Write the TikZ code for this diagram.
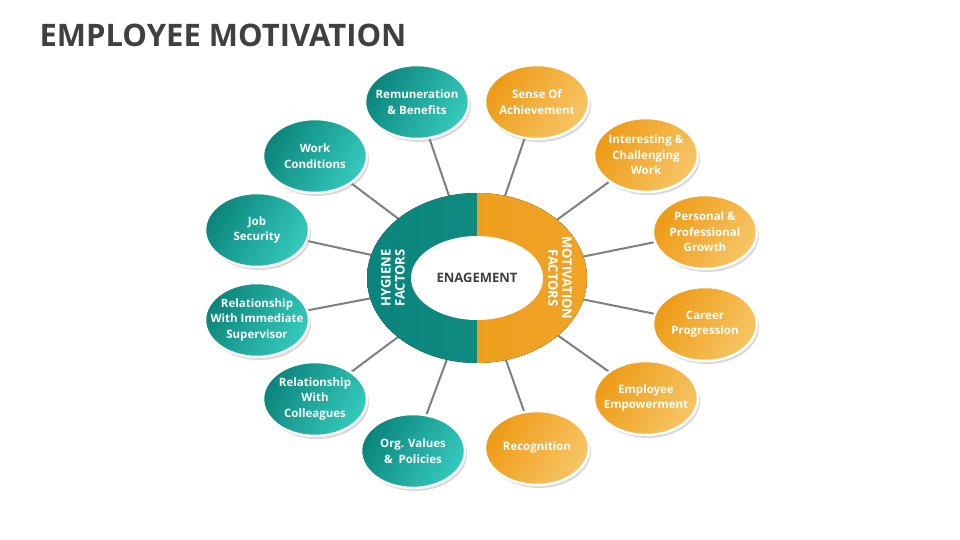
\documentclass[tikz,border=0pt]{standalone}
\usepackage{fontspec}
\setmainfont{Open Sans}
\usetikzlibrary{shapes.geometric,shadows}
\definecolor{tealA}{HTML}{0B857B}
\definecolor{tealB}{HTML}{35C9BC}
\definecolor{orA}{HTML}{EE9B16}
\definecolor{orB}{HTML}{F6C565}
\definecolor{titlec}{HTML}{404040}
\definecolor{linec}{HTML}{7F7F7F}
\begin{document}
\begin{tikzpicture}[x=1pt,y=-1pt,
  sat/.style={ellipse,minimum width=104pt,minimum height=74pt,inner sep=0pt,draw=white,line width=2.5pt,
    drop shadow={shadow xshift=2pt,shadow yshift=-3pt,opacity=0.3}},
  tsat/.style={sat,left color=tealA,right color=tealB,shading angle=60},
  osat/.style={sat,left color=orA,right color=orB,shading angle=60},
  lab/.style={font=\fontsize{11.5}{15.5}\selectfont\bfseries,text=white,align=center,inner sep=0pt},
  conn/.style={draw=linec,line width=2pt}]
\pgfdeclarelayer{bg}\pgfsetlayers{bg,main}
\useasboundingbox (0,0) rectangle (960,540);
\node[anchor=west,font=\fontsize{31}{34}\selectfont\bfseries,text=titlec] (title) at (36,35) {EMPLOYEE MOTIVATION};
\coordinate (c) at (477,278);
\foreach \n/\st/\x/\y/\t in {
 s1/tsat/417/102/{Remuneration\\\& Benefits},
 s2/osat/537/102/{Sense Of\\Achievement},
 s3/tsat/315/156/{Work\\Conditions},
 s4/osat/646/155/{Interesting \&\\Challenging\\Work},
 s5/tsat/257/230/{Job\\Security},
 s6/osat/705/232/{Personal \&\\Professional\\Growth},
 s7/tsat/257/320/{Relationship\\With Immediate\\Supervisor},
 s8/osat/705/324/{Career\\Progression},
 s9/tsat/315/399/{Relationship\\With\\Colleagues},
 s10/osat/646/398/{Employee\\Empowerment},
 s11/tsat/413/451/{Org. Values\\\&\ \ Policies},
 s12/osat/537/448/{Recognition}}{
 \node[\st] (\n) at (\x,\y) {};
 \node[lab] (\n t) at (\n) {\t};
 \begin{pgfonlayer}{bg}\draw[conn] (\n.center) -- (c);\end{pgfonlayer}
}
\begin{scope}
\clip (367,190) rectangle (477,366);
\fill[left color=tealA,right color=tealA!85!tealB] (c) ellipse (110 and 85);
\end{scope}
\begin{scope}
\clip (477,190) rectangle (590,366);
\fill[left color=orA,right color=orA!80!orB] (c) ellipse (110 and 85);
\end{scope}
\node[ellipse,fill=white,minimum width=132pt,minimum height=84pt,inner sep=0pt,font=\fontsize{13}{15}\selectfont\bfseries,text=titlec] (eng) at (c) {ENAGEMENT};
\node[rotate=90,text=white,align=center,font=\fontsize{13}{14}\selectfont\bfseries] (hyg) at (393,278) {HYGIENE\\FACTORS};
\node[rotate=-90,text=white,align=center,font=\fontsize{13}{14}\selectfont\bfseries] (mot) at (560,278) {MOTIVATION\\FACTORS};
\end{tikzpicture}
\end{document}
